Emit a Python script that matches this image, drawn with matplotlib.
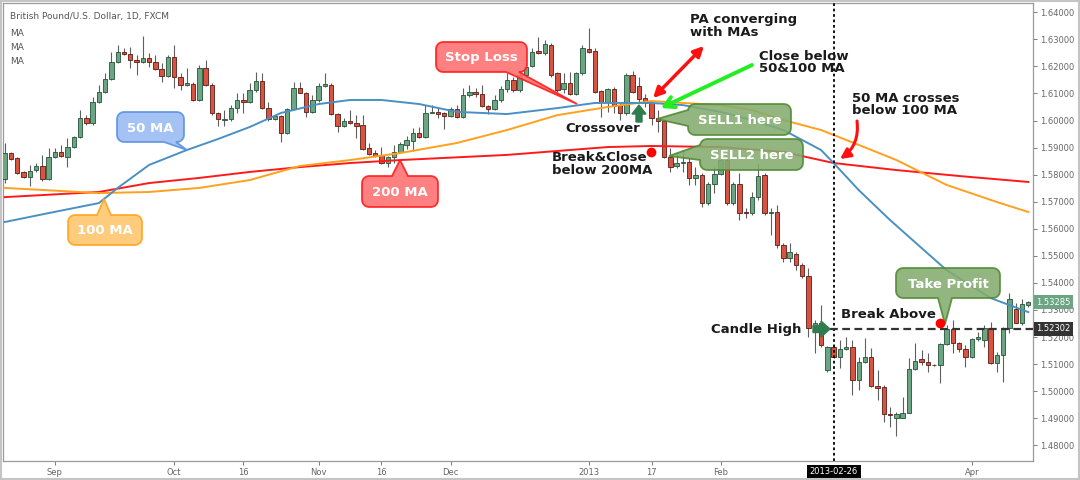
import numpy as np
import matplotlib.pyplot as plt
from matplotlib.patches import Polygon
from matplotlib.transforms import Affine2D, blended_transform_factory

# GBP/USD daily candles (oldest first)
opens = [
    1.5784, 1.5880, 1.5862, 1.5810, 1.5791, 1.5817, 1.5832, 1.5784, 1.5865, 1.5884,
    1.5865, 1.5902, 1.5939, 1.6009, 1.5991, 1.6069, 1.6105, 1.6154, 1.6216, 1.6253,
    1.6246, 1.6224, 1.6216, 1.6231, 1.6216, 1.6190, 1.6165, 1.6235, 1.6161, 1.6131,
    1.6135, 1.6076, 1.6194, 1.6131, 1.6028, 1.6002, 1.6006, 1.6046, 1.6076, 1.6069,
    1.6113, 1.6146, 1.6046, 1.6006, 1.6017, 1.5954, 1.6043, 1.6120, 1.6102, 1.6032,
    1.6076, 1.6128, 1.6131, 1.6024, 1.5980, 1.5998, 1.5991, 1.5984, 1.5899, 1.5880,
    1.5873, 1.5843, 1.5865, 1.5884, 1.5910, 1.5924, 1.5954, 1.5939, 1.6028, 1.6032,
    1.6028, 1.6017, 1.6043, 1.6013, 1.6094, 1.6105, 1.6098, 1.6054, 1.6043, 1.6076,
    1.6117, 1.6150, 1.6113, 1.6168, 1.6202, 1.6257, 1.6250, 1.6279, 1.6176, 1.6117,
    1.6139, 1.6098, 1.6176, 1.6264, 1.6257, 1.6109, 1.6069, 1.6117, 1.6057, 1.6028,
    1.6168, 1.6128, 1.6083, 1.6065, 1.6009, 1.5998, 1.5865, 1.5832, 1.5843, 1.5847,
    1.5788, 1.5799, 1.5695, 1.5766, 1.5802, 1.5854, 1.5695, 1.5766, 1.5662, 1.5658,
    1.5717, 1.5799, 1.5658, 1.5662, 1.5540, 1.5492, 1.5507, 1.5466, 1.5426, 1.5233,
    1.5252, 1.5078, 1.5163, 1.5126, 1.5156, 1.5163, 1.5041, 1.5108, 1.5126, 1.5019,
    1.5015, 1.4916, 1.4901, 1.4901, 1.4919, 1.5082, 1.5119, 1.5108, 1.5097, 1.5097,
    1.5174, 1.5230, 1.5178, 1.5156, 1.5126, 1.5193, 1.5189, 1.5233, 1.5104, 1.5134,
    1.5233, 1.5304, 1.5252, 1.5318,
]
highs = [
    1.5917, 1.5884, 1.5865, 1.5812, 1.5836, 1.5843, 1.5873, 1.5899, 1.5899, 1.5910,
    1.5935, 1.5943, 1.6039, 1.6020, 1.6087, 1.6131, 1.6176, 1.6253, 1.6279, 1.6268,
    1.6272, 1.6242, 1.6312, 1.6250, 1.6242, 1.6213, 1.6242, 1.6279, 1.6176, 1.6194,
    1.6142, 1.6205, 1.6224, 1.6139, 1.6032, 1.6039, 1.6057, 1.6102, 1.6102, 1.6139,
    1.6179, 1.6176, 1.6069, 1.6020, 1.6020, 1.6046, 1.6142, 1.6142, 1.6105, 1.6094,
    1.6139, 1.6176, 1.6139, 1.6028, 1.6009, 1.6039, 1.6020, 1.6020, 1.5917, 1.5891,
    1.5902, 1.5869, 1.5910, 1.5921, 1.5943, 1.5972, 1.5976, 1.6057, 1.6057, 1.6050,
    1.6032, 1.6050, 1.6057, 1.6120, 1.6131, 1.6120, 1.6131, 1.6057, 1.6094, 1.6128,
    1.6176, 1.6161, 1.6179, 1.6213, 1.6268, 1.6309, 1.6298, 1.6287, 1.6179, 1.6176,
    1.6179, 1.6179, 1.6279, 1.6342, 1.6268, 1.6113, 1.6120, 1.6124, 1.6065, 1.6176,
    1.6183, 1.6161, 1.6098, 1.6069, 1.6039, 1.6002, 1.5899, 1.5884, 1.5891, 1.5862,
    1.5828, 1.5806, 1.5773, 1.5828, 1.5899, 1.5865, 1.5773, 1.5806, 1.5677, 1.5736,
    1.5843, 1.5806, 1.5677, 1.5688, 1.5547, 1.5547, 1.5514, 1.5473, 1.5455, 1.5263,
    1.5318, 1.5167, 1.5171, 1.5189, 1.5200, 1.5189, 1.5126, 1.5196, 1.5159, 1.5078,
    1.5023, 1.4941, 1.4923, 1.4978, 1.5122, 1.5178, 1.5152, 1.5141, 1.5100, 1.5178,
    1.5244, 1.5263, 1.5182, 1.5171, 1.5196, 1.5219, 1.5244, 1.5256, 1.5145, 1.5237,
    1.5363, 1.5326, 1.5341, 1.5333,
]
lows = [
    1.5769, 1.5854, 1.5802, 1.5788, 1.5758, 1.5810, 1.5777, 1.5780, 1.5862, 1.5865,
    1.5828, 1.5899, 1.5935, 1.5984, 1.5984, 1.6065, 1.6102, 1.6150, 1.6213, 1.6242,
    1.6194, 1.6168, 1.6213, 1.6198, 1.6187, 1.6142, 1.6161, 1.6120, 1.6113, 1.6128,
    1.6072, 1.6072, 1.6128, 1.6020, 1.5980, 1.5980, 1.5998, 1.6028, 1.6028, 1.6065,
    1.6105, 1.6043, 1.5998, 1.6002, 1.5921, 1.5950, 1.6039, 1.6102, 1.6013, 1.6028,
    1.6069, 1.6124, 1.6020, 1.5958, 1.5976, 1.5987, 1.5935, 1.5891, 1.5873, 1.5865,
    1.5839, 1.5828, 1.5843, 1.5880, 1.5895, 1.5887, 1.5935, 1.5935, 1.6028, 1.6009,
    1.5969, 1.6013, 1.6009, 1.6009, 1.6087, 1.6087, 1.6050, 1.6024, 1.6039, 1.6069,
    1.6105, 1.6105, 1.6105, 1.6161, 1.6198, 1.6246, 1.6242, 1.6161, 1.6105, 1.6102,
    1.6094, 1.6094, 1.6168, 1.6250, 1.6102, 1.6013, 1.6032, 1.6028, 1.6002, 1.6020,
    1.6102, 1.6069, 1.6050, 1.5984, 1.5958, 1.5862, 1.5810, 1.5825, 1.5810, 1.5762,
    1.5762, 1.5680, 1.5688, 1.5732, 1.5799, 1.5688, 1.5688, 1.5632, 1.5640, 1.5651,
    1.5706, 1.5651, 1.5577, 1.5529, 1.5477, 1.5477, 1.5447, 1.5418, 1.5200, 1.5141,
    1.5163, 1.5071, 1.5122, 1.5086, 1.5152, 1.4986, 1.5004, 1.5104, 1.5015, 1.4967,
    1.4886, 1.4868, 1.4834, 1.4901, 1.4919, 1.5078, 1.5097, 1.5071, 1.5093, 1.5030,
    1.5171, 1.5141, 1.5145, 1.5089, 1.5122, 1.5185, 1.5163, 1.5100, 1.5071, 1.5034,
    1.5215, 1.5252, 1.5244, 1.5311,
]
closes = [
    1.5880, 1.5858, 1.5806, 1.5791, 1.5814, 1.5832, 1.5784, 1.5865, 1.5884, 1.5869,
    1.5902, 1.5939, 1.6009, 1.5991, 1.6069, 1.6105, 1.6154, 1.6216, 1.6253, 1.6246,
    1.6224, 1.6216, 1.6231, 1.6216, 1.6190, 1.6165, 1.6235, 1.6161, 1.6131, 1.6139,
    1.6076, 1.6194, 1.6131, 1.6028, 1.6006, 1.6006, 1.6046, 1.6076, 1.6069, 1.6113,
    1.6146, 1.6046, 1.6006, 1.6017, 1.5954, 1.6043, 1.6120, 1.6102, 1.6032, 1.6076,
    1.6128, 1.6135, 1.6024, 1.5980, 1.5998, 1.5991, 1.5980, 1.5895, 1.5876, 1.5869,
    1.5843, 1.5865, 1.5884, 1.5913, 1.5928, 1.5954, 1.5939, 1.6028, 1.6032, 1.6024,
    1.6017, 1.6043, 1.6013, 1.6094, 1.6105, 1.6098, 1.6054, 1.6043, 1.6076, 1.6117,
    1.6150, 1.6113, 1.6168, 1.6198, 1.6253, 1.6250, 1.6283, 1.6168, 1.6113, 1.6139,
    1.6098, 1.6176, 1.6268, 1.6253, 1.6105, 1.6069, 1.6117, 1.6054, 1.6028, 1.6168,
    1.6105, 1.6080, 1.6065, 1.6009, 1.5998, 1.5865, 1.5828, 1.5843, 1.5847, 1.5788,
    1.5799, 1.5695, 1.5766, 1.5802, 1.5854, 1.5695, 1.5766, 1.5658, 1.5658, 1.5717,
    1.5795, 1.5658, 1.5662, 1.5540, 1.5492, 1.5514, 1.5466, 1.5426, 1.5233, 1.5252,
    1.5171, 1.5163, 1.5126, 1.5156, 1.5163, 1.5041, 1.5108, 1.5126, 1.5019, 1.5012,
    1.4916, 1.4912, 1.4916, 1.4919, 1.5082, 1.5111, 1.5108, 1.5097, 1.5095, 1.5174,
    1.5230, 1.5178, 1.5156, 1.5126, 1.5193, 1.5200, 1.5233, 1.5104, 1.5134, 1.5233,
    1.5341, 1.5252, 1.5322, 1.53285,
]

# moving averages, sampled along the drawn lines (candle index, price)
ma50_idx = [0, 7, 15, 18, 23, 29, 34, 39, 44, 50, 55, 60, 66, 72, 80, 88, 94, 103,
            108, 114, 119, 124, 130, 132, 136, 141, 146, 150, 157, 163]
ma50 = [1.5625, 1.5658, 1.5695, 1.5751, 1.5836, 1.5891, 1.5932, 1.5976, 1.6028, 1.6061,
        1.6076, 1.6076, 1.6061, 1.6032, 1.6024, 1.6046, 1.6065, 1.6065, 1.6057, 1.6032,
        1.6002, 1.5965, 1.5891, 1.5843, 1.5743, 1.5632, 1.5529, 1.5447, 1.5344, 1.5292]
ma100_idx = [0, 15, 23, 31, 39, 47, 55, 63, 72, 80, 88, 96, 103, 108, 114, 119, 124,
             130, 136, 142, 150, 158, 163]
ma100 = [1.5751, 1.5732, 1.5736, 1.5751, 1.5780, 1.5832, 1.5854, 1.5880, 1.5917, 1.5965,
         1.6020, 1.6050, 1.6072, 1.6065, 1.6057, 1.6039, 1.6002, 1.5965, 1.5910, 1.5854,
         1.5762, 1.5699, 1.5662]
ma200_idx = [0, 15, 23, 31, 39, 47, 55, 63, 80, 96, 103, 114, 124, 132, 142, 152, 163]
ma200 = [1.5717, 1.5736, 1.5769, 1.5788, 1.5810, 1.5828, 1.5843, 1.5854, 1.5873, 1.5902,
         1.5906, 1.5902, 1.5884, 1.5843, 1.5817, 1.5795, 1.5773]

xtick_idx = [8, 27, 38, 50, 60, 71, 93, 103, 114, 154]
xtick_labels = ["Sep", "Oct", "16", "Nov", "16", "Dec", "2013", "17", "Feb", "Apr"]
cross_idx = 132
cross_date = "2013-02-26"
target_price = 1.52302

o = np.array(opens)
h = np.array(highs)
l = np.array(lows)
c = np.array(closes)
idx = np.arange(len(c))
up = c >= o

fig = plt.figure(figsize=(10.8, 4.8), dpi=100)
ax = fig.add_axes([3 / 1080, 19 / 480, 1030 / 1080, 458 / 480])

# candles
ax.vlines(idx, l, h, color="#5f5f5f", lw=0.8, zorder=2)
body_col = np.where(up, "#6ba583", "#d75442")
edge_col = np.where(up, "#225437", "#5b1a13")
ax.bar(idx, np.maximum(np.abs(c - o), 0.00004), bottom=np.minimum(o, c), width=0.7,
       color=body_col, edgecolor=edge_col, linewidth=0.6, zorder=3)

# moving averages
ax.plot(ma200_idx, ma200, color="#ff1a1a", lw=1.4, zorder=4)
ax.plot(ma100_idx, ma100, color="#ffa01e", lw=1.4, zorder=4)
ax.plot(ma50_idx, ma50, color="#4a90c2", lw=1.4, zorder=4)

ax.set_xlim(-0.27, 163.75)
ax.set_ylim(1.47418, 1.64344)

ax.yaxis.tick_right()
ax.set_yticks(np.round(np.arange(148, 165) / 100, 2))
ax.yaxis.set_major_formatter(plt.FormatStrFormatter("%.5f"))
ax.set_xticks(xtick_idx)
ax.set_xticklabels(xtick_labels)
ax.tick_params(labelsize=6, colors="#666666", length=3, width=0.6, pad=2)
for sp in ax.spines.values():
    sp.set_color("#9a9a9a")
    sp.set_linewidth(0.9)

# crossover date and target line
ax.axvline(cross_idx, color="black", ls=(0, (1.5, 1.5)), lw=1.3, zorder=5)
ax.hlines(target_price, cross_idx - 0.6, 163.75, color="#333333", ls=(0, (3.5, 2)),
          lw=1.6, zorder=5)
ytrans = blended_transform_factory(ax.transAxes, ax.transData)
xtrans = blended_transform_factory(ax.transData, ax.transAxes)
ax.text(1.003, target_price, f"{target_price:.5f}", transform=ytrans, ha="left",
        va="center", fontsize=6, color="white", clip_on=False,
        bbox=dict(boxstyle="square,pad=0.3", fc="#333333", ec="none"))
ax.text(1.003, closes[-1], f"{closes[-1]:.5f}", transform=ytrans, ha="left",
        va="center", fontsize=6, color="white", clip_on=False,
        bbox=dict(boxstyle="square,pad=0.3", fc="#6ba583", ec="none"))
ax.text(cross_idx, -0.024, cross_date, transform=xtrans, ha="center", va="center",
        fontsize=6, color="white", clip_on=False,
        bbox=dict(boxstyle="square,pad=0.35", fc="black", ec="none"))

# annotation layer in image pixels (origin top-left)
px = Affine2D().scale(1, -1).translate(0, 480)


def bubble(x0, y0, x1, y1, side, a, b, tip, text, face, edge, r=7):
    pts = []

    def arc(cx, cy, t0, t1):
        for t in np.linspace(t0, t1, 6):
            pts.append((cx + r * np.cos(t), cy + r * np.sin(t)))

    arc(x0 + r, y0 + r, np.pi, 1.5 * np.pi)
    if side == "top":
        pts += [(a, y0), tip, (b, y0)]
    arc(x1 - r, y0 + r, 1.5 * np.pi, 2 * np.pi)
    if side == "right":
        pts += [(x1, a), tip, (x1, b)]
    arc(x1 - r, y1 - r, 0, 0.5 * np.pi)
    if side == "bottom":
        pts += [(b, y1), tip, (a, y1)]
    arc(x0 + r, y1 - r, 0.5 * np.pi, np.pi)
    if side == "left":
        pts += [(x0, b), tip, (x0, a)]
    ax.add_patch(Polygon(pts, closed=True, transform=px, facecolor=face, edgecolor=edge,
                         lw=1.3, alpha=0.88, zorder=8, clip_on=False))
    ax.text((x0 + x1) / 2, (y0 + y1) / 2 + 1, text, transform=px, ha="center",
            va="center", fontsize=9.5, fontweight="bold", color="white", zorder=9)


green_f, green_e = "#84ac70", "#4f8a32"
red_f, red_e = "#ff6e6e", "#ff1a1a"
bubble(117, 112, 184, 142, "bottom", 164, 176, (187, 150), "50 MA", "#98bbf3", "#5b8fe0")
bubble(68, 215, 142, 245, "top", 97, 111, (104, 199), "100 MA", "#ffc46b", "#ffa31a")
bubble(362, 176, 438, 207, "top", 392, 408, (400, 160), "200 MA", red_f, red_e)
bubble(436, 42, 527, 72, "bottom", 506, 519, (577, 104), "Stop Loss", red_f, red_e)
bubble(688, 104, 791, 135, "left", 110, 126, (657, 119), "SELL1 here", green_f, green_e)
bubble(700, 139, 803, 170, "left", 145, 160, (669, 156), "SELL2 here", green_f, green_e)
bubble(896, 268, 1000, 298, "bottom", 938, 952, (945, 324), "Take Profit", green_f, green_e)

bold = dict(transform=px, fontsize=9.5, fontweight="bold", color="#1a1a1a", zorder=9,
            linespacing=0.95)
ax.text(690, 13, "PA converging\nwith MAs", ha="left", va="top", **bold)
ax.text(759, 50, "Close below\n50&100 MA", ha="left", va="top", **bold)
ax.text(852, 92, "50 MA crosses\nbelow 100 MA", ha="left", va="top", **bold)
ax.text(603, 129, "Crossover", ha="center", va="center", **bold)
ax.text(552, 151, "Break&Close\nbelow 200MA", ha="left", va="top", **bold)
ax.text(801, 329, "Candle High", ha="right", va="center", **bold)
ax.text(841, 314, "Break Above", ha="left", va="center", **bold)

arrow_kw = dict(xycoords=px, textcoords=px, annotation_clip=False)
ax.annotate("", xy=(653, 98), xytext=(704, 46), zorder=9, **arrow_kw,
            arrowprops=dict(arrowstyle="<|-|>,head_length=0.6,head_width=0.3",
                            color="#ff1010", lw=2.5, shrinkA=0, shrinkB=0))
ax.annotate("", xy=(661, 108), xytext=(752, 65), zorder=9, **arrow_kw,
            arrowprops=dict(arrowstyle="->,head_length=0.7,head_width=0.4",
                            color="#22ee22", lw=2.8, shrinkA=0, shrinkB=0))
ax.annotate("", xy=(840, 159), xytext=(857, 121), zorder=9, **arrow_kw,
            arrowprops=dict(arrowstyle="-|>,head_length=0.6,head_width=0.3",
                            color="#ff1010", lw=2.2, shrinkA=0, shrinkB=0,
                            connectionstyle="arc3,rad=-0.3"))

arrow_green = "#2f7d4f"
ax.add_patch(Polygon([(639, 105), (646, 114), (642, 114), (642, 122), (636, 122),
                      (636, 114), (632, 114)], transform=px, color=arrow_green,
                     zorder=9, clip_on=False))
ax.add_patch(Polygon([(830, 329), (821, 321), (821, 325.5), (813, 325.5), (813, 332.5),
                      (821, 332.5), (821, 337)], transform=px, color=arrow_green,
                     zorder=9, clip_on=False))
ax.plot([651, 940], [152, 323], "o", color="#ff0000", ms=7, mec="none",
        transform=px, zorder=9, clip_on=False)

# chart title and indicator labels
small = dict(transform=px, fontsize=6.5, color="#555555", ha="left", va="center")
ax.text(10, 17, "British Pound/U.S. Dollar, 1D, FXCM", **small)
for y in (33, 47, 61):
    ax.text(10, y, "MA", **small)

# outer frame
fig.patches.append(plt.Rectangle((0.001, 0.002), 0.998, 0.996, transform=fig.transFigure,
                                 fill=False, ec="#c4c4c4", lw=1.5))

fig.savefig("out.png", dpi=100)
